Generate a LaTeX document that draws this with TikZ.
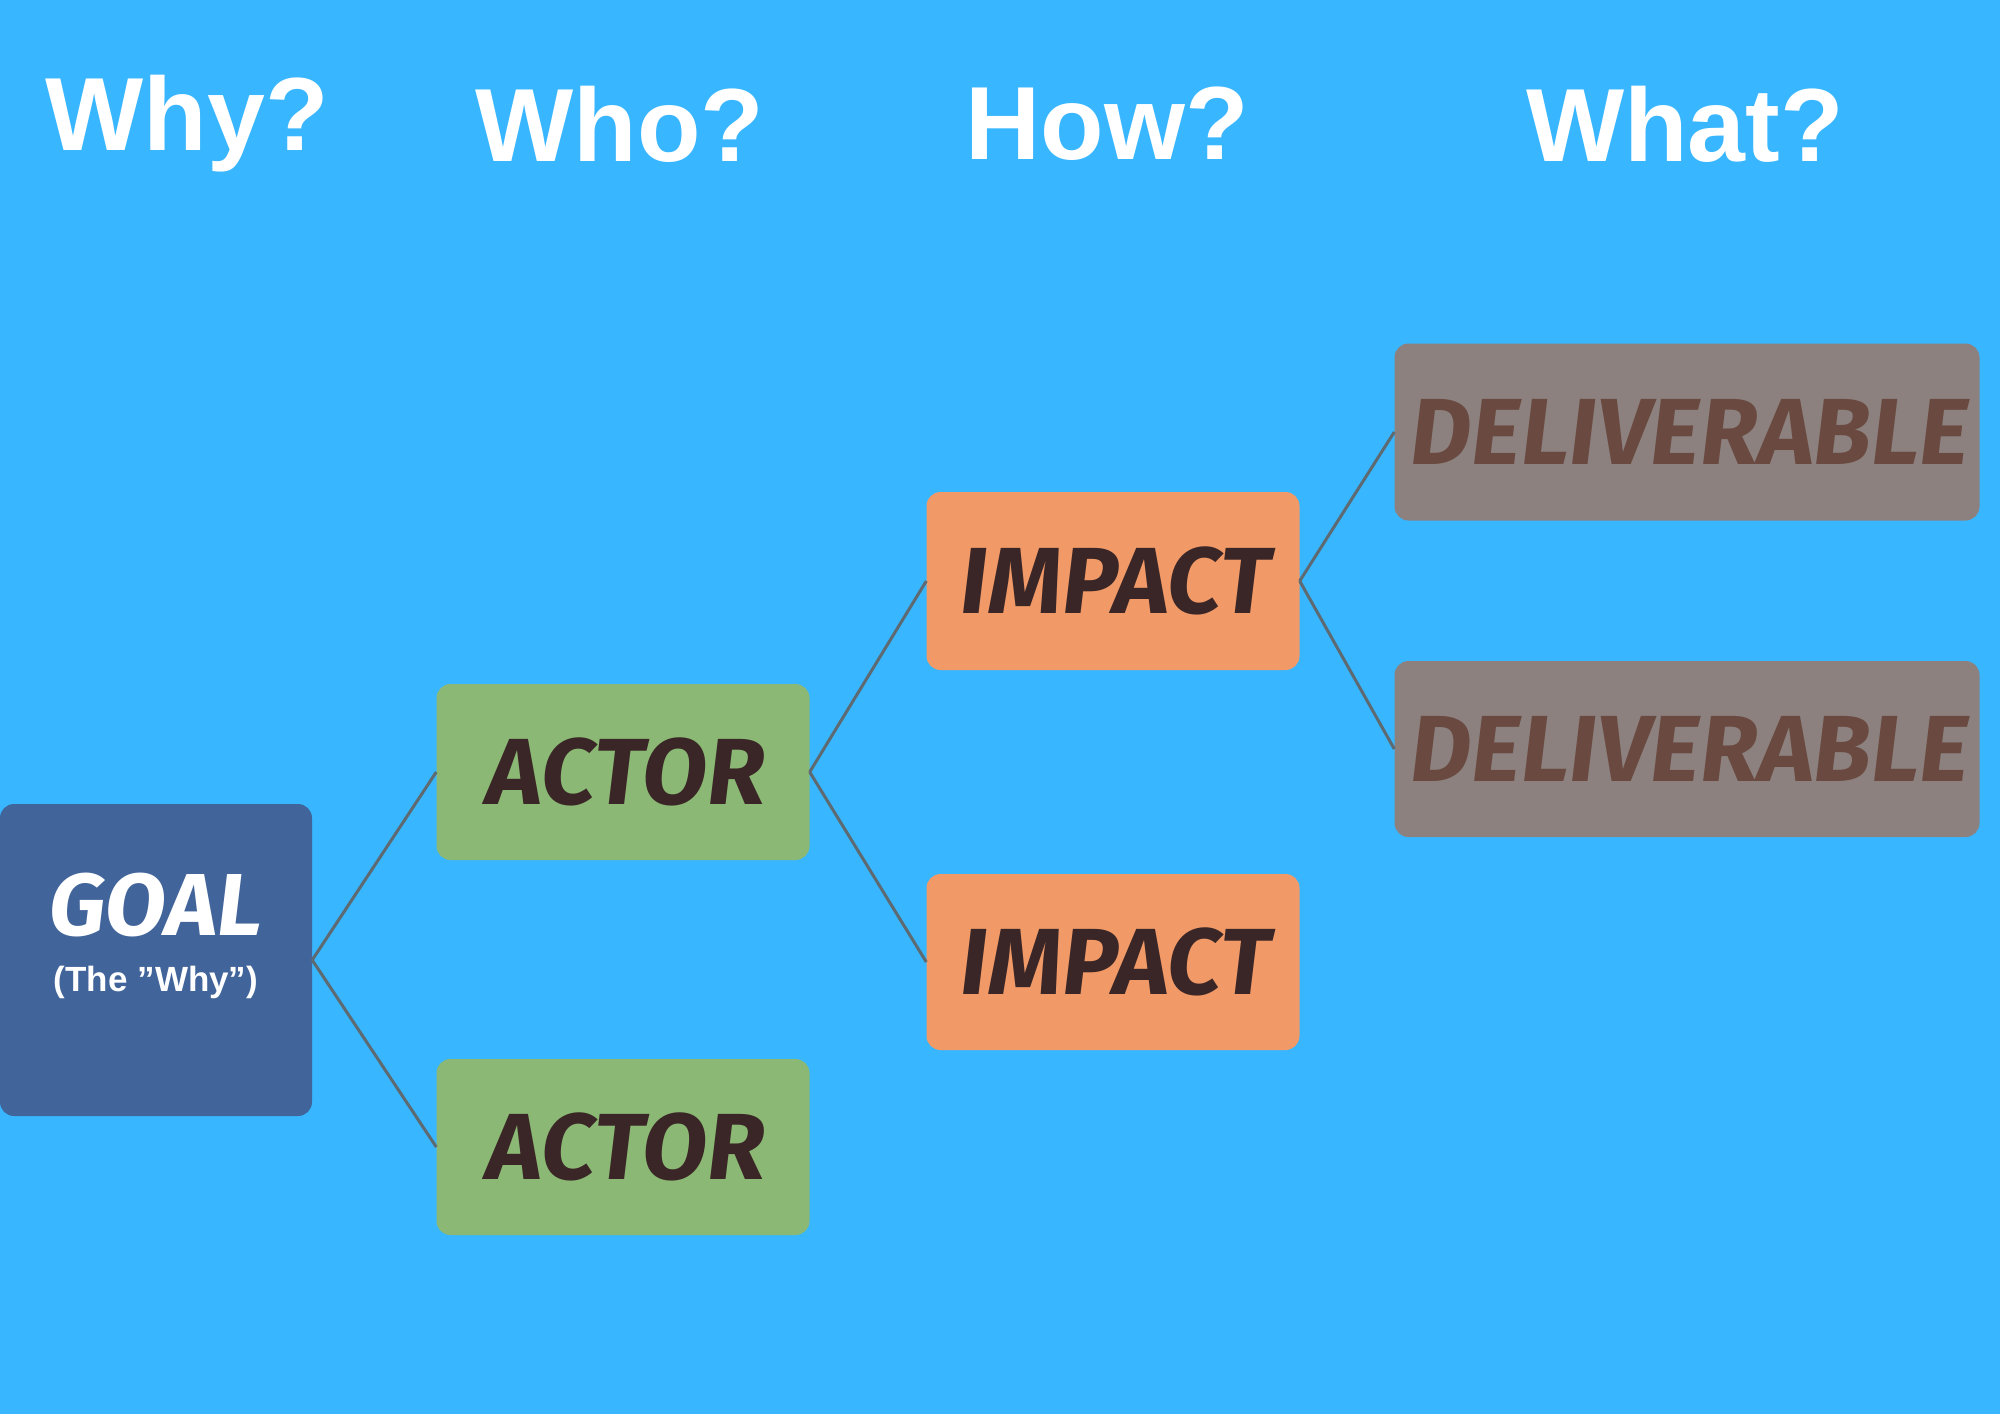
\documentclass[tikz,border=0pt]{standalone}
\usepackage{fontspec}
\setmainfont{Liberation Sans}
\newfontfamily\brush[FakeSlant=0.12]{Fira Sans}
\definecolor{bg}{HTML}{38B6FF}
\definecolor{goalc}{HTML}{41649A}
\definecolor{actorc}{HTML}{8BB874}
\definecolor{impactc}{HTML}{F19A68}
\definecolor{delc}{HTML}{8C817E}
\definecolor{darktxt}{HTML}{3A2626}
\definecolor{deltxt}{HTML}{6A4A40}
\definecolor{linec}{HTML}{5E6A72}
\tikzset{
  box/.style={rounded corners=14pt, inner sep=0pt},
  hdr/.style={text=white, font=\fontsize{104}{110}\selectfont\bfseries},
  lbl/.style={font=\brush\bfseries\fontsize{94}{100}\selectfont},
  conn/.style={draw=linec, line width=3pt}
}
\begin{document}
\begin{tikzpicture}[x=1pt,y=-1pt]
\fill[bg] (0,0) rectangle (2000,1414);
\useasboundingbox (0,0) rectangle (2000,1414);
\node[hdr] (h1) at (187,124) {Why?};
\node[hdr] (h2) at (620,124) {Who?};
\node[hdr] (h3) at (1107,124) {How?};
\node[hdr] (h4) at (1685,124) {What?};

\node[box, fill=goalc, minimum width=312pt, minimum height=312pt] (goal) at (156,960) {};
\node[text=white, font=\brush\bfseries\fontsize{88}{90}\selectfont] (gt) at (153,905) {GOAL};
\node[text=white, font=\fontsize{35}{40}\selectfont\bfseries] (gs) at (156,982) {(The "Why")};

\node[box, fill=actorc, minimum width=373pt, minimum height=176pt, lbl, text=darktxt] (a1) at (623,772) {ACTOR};
\node[box, fill=actorc, minimum width=373pt, minimum height=176pt, lbl, text=darktxt] (a2) at (623,1147) {ACTOR};
\node[box, fill=impactc, minimum width=373pt, minimum height=178pt, lbl, text=darktxt] (i1) at (1113,581) {IMPACT};
\node[box, fill=impactc, minimum width=373pt, minimum height=176pt, lbl, text=darktxt] (i2) at (1113,962) {IMPACT};
\node[box, fill=delc, minimum width=585pt, minimum height=177pt, lbl, text=deltxt] (d1) at (1687,432) {DELIVERABLE};
\node[box, fill=delc, minimum width=585pt, minimum height=176pt, lbl, text=deltxt] (d2) at (1687,749) {DELIVERABLE};

\draw[conn] (goal.east) -- (a1.west);
\draw[conn] (goal.east) -- (a2.west);
\draw[conn] (a1.east) -- (i1.west);
\draw[conn] (a1.east) -- (i2.west);
\draw[conn] (i1.east) -- (d1.west);
\draw[conn] (i1.east) -- (d2.west);
\end{tikzpicture}
\end{document}
